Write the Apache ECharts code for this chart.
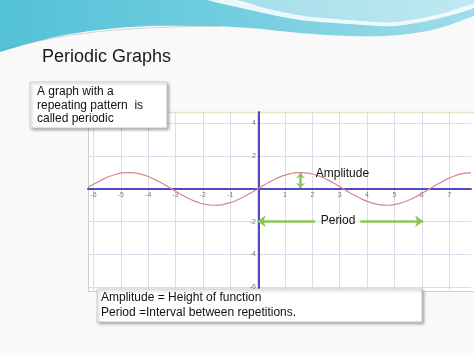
<!DOCTYPE html>
<html><head><meta charset="utf-8">
<script src="https://cdn.jsdelivr.net/npm/echarts@6/dist/echarts.min.js"></script>
<style>html,body{margin:0;padding:0;background:#f9f9f9}#c{width:474px;height:355px}</style>
</head><body><div id="c"></div>
<script>
// ---- data ----
const xValues = [-6.2,-6.0,-5.8,-5.6,-5.4,-5.2,-5.0,-4.8,-4.6,-4.4,-4.2,-4.0,-3.8,-3.6,-3.4,-3.2,-3.0,-2.8,-2.6,-2.4,-2.2,-2.0,-1.8,-1.6,-1.4,-1.2,-1.0,-0.8,-0.6,-0.4,-0.2,0,0.2,0.4,0.6,0.8,1.0,1.2,1.4,1.6,1.8,2.0,2.2,2.4,2.6,2.8,3.0,3.2,3.4,3.6,3.8,4.0,4.2,4.4,4.6,4.8,5.0,5.2,5.4,5.6,5.8,6.0,6.2,6.4,6.6,6.8,7.0,7.2,7.4,7.6,7.8];
const yValues = [0.08,0.28,0.46,0.63,0.77,0.88,0.96,1.0,0.99,0.95,0.87,0.76,0.61,0.44,0.26,0.06,-0.14,-0.34,-0.52,-0.68,-0.81,-0.91,-0.97,-1.0,-0.99,-0.93,-0.84,-0.72,-0.56,-0.39,-0.2,0,0.2,0.39,0.56,0.72,0.84,0.93,0.99,1.0,0.97,0.91,0.81,0.68,0.52,0.34,0.14,-0.06,-0.26,-0.44,-0.61,-0.76,-0.87,-0.95,-0.99,-1.0,-0.96,-0.88,-0.77,-0.63,-0.46,-0.28,-0.08,0.12,0.31,0.49,0.66,0.79,0.9,0.97,1.0];
const xTickLabels = [-6,-5,-4,-3,-2,-1,1,2,3,4,5,6,7];
const yTickLabels = [-6,-4,-2,2,4];
const amplitudeArrow = [[1.57, 0.95], [1.57, 0.05]];
const periodArrowLeft = [[0, -1.97], [2.1, -1.97]];
const periodArrowRight = [[3.75, -1.97], [6.05, -1.97]];
const annotationTexts = ['Amplitude', 'Period'];
const annotationCoords = [[3.1, 0.95], [2.94, -1.97]];
const titleText = 'Periodic Graphs';
const box1Lines = ['A graph with a', 'repeating pattern  is', 'called periodic'];
const box2Lines = ['Amplitude = Height of function', 'Period =Interval between repetitions.'];

const FONT = '"Liberation Sans", Arial, sans-serif';
const T = 'rgba(0,0,0,0)';
function cycle(n, idx, col) { const a = []; for (let i = 0; i < n; i++) a.push(i === idx ? col : T); return a; }
function isTick(v, list) { const r = Math.round(v); return Math.abs(v - r) < 1e-6 && list.indexOf(r) >= 0 ? String(r) : ''; }

const X_MIN = -6.2, X_MAX = 7.8, Y_MIN = -6.3, Y_MAX = 4.7;
const G = { left: 88, top: 112, width: 386, height: 180 };
// move the axes onto the zero lines (labels included)
const xAxisOffset = -G.height * (0 - Y_MIN) / (Y_MAX - Y_MIN);
const yAxisOffset = -G.width * (0 - X_MIN) / (X_MAX - X_MIN);

const chart = echarts.init(document.getElementById('c'), null, { renderer: 'canvas' });
const curve = xValues.map((x, i) => [x, yValues[i]]);
const arrowColor = '#8cc65a';

const option = {
  backgroundColor: '#f9f9f9',
  animation: false,
  grid: Object.assign({ containLabel: false }, G),
  xAxis: {
    type: 'value', min: X_MIN, max: X_MAX, interval: 0.2, offset: xAxisOffset,
    axisLine: { onZero: false, lineStyle: { color: '#5048c4', width: 2 } },
    axisTick: { show: false },
    axisLabel: { margin: 3, fontSize: 7, color: '#777', fontFamily: FONT, formatter: v => isTick(v, xTickLabels) },
    splitLine: { show: true, lineStyle: { color: cycle(5, 1, '#dcdcee'), width: 1 } }
  },
  yAxis: {
    type: 'value', min: Y_MIN, max: Y_MAX, interval: 0.1, offset: yAxisOffset,
    axisLine: { onZero: false, lineStyle: { color: '#5048c4', width: 2 } },
    axisTick: { show: false },
    axisLabel: { margin: 3, fontSize: 7, color: '#777', fontFamily: FONT, formatter: v => isTick(v, yTickLabels) },
    splitLine: { show: true, lineStyle: { color: cycle(20, 3, '#dcdcee'), width: 1 } }
  },
  series: [{
    type: 'line', data: curve, smooth: true, showSymbol: false, symbol: 'none', z: 3,
    lineStyle: { color: '#d8868a', width: 1.2 },
    markLine: {
      silent: true, symbol: ['arrow', 'arrow'], symbolSize: [9, 8],
      label: { show: false },
      lineStyle: { color: arrowColor, width: 2.5, type: 'solid' },
      data: [
        [{ coord: amplitudeArrow[0], symbolSize: [7, 5] }, { coord: amplitudeArrow[1], symbolSize: [7, 5] }],
        [{ coord: periodArrowLeft[0] }, { coord: periodArrowLeft[1], symbol: 'none' }],
        [{ coord: periodArrowRight[0], symbol: 'none' }, { coord: periodArrowRight[1] }]
      ]
    },
    markPoint: {
      silent: true, symbol: 'circle', symbolSize: 1,
      itemStyle: { color: T },
      label: { show: true, position: 'inside', color: '#111', fontSize: 12, fontFamily: FONT, formatter: p => p.name },
      data: annotationTexts.map((t, i) => ({ name: t, coord: annotationCoords[i] }))
    }
  }],
  graphic: [
    { type: 'polygon', z: -100, shape: { smooth: 0.35, points: [[-30, -30], [504, -30], [504, 8], [474, 16], [440, 28], [400, 35], [350, 36], [300, 33], [250, 28], [200, 26], [130, 27], [60, 36], [0, 52], [-30, 62]] },
      style: { fill: { type: 'linear', x: 0, y: 0, x2: 1, y2: 0, colorStops: [{ offset: 0, color: '#4dbfd6' }, { offset: 0.5, color: '#72cde0' }, { offset: 1, color: '#a6dfeb' }] } } },
    { type: 'polygon', z: -99, shape: { smooth: 0.35, points: [[232, -1], [265, 8], [305, 16], [350, 20], [395, 22], [440, 14], [474, 4], [490, -1]] }, style: { fill: 'rgba(255,255,255,0.35)' } },
    { type: 'polygon', z: -98, shape: { smooth: 0.3, points: [[205, -1], [250, 10], [300, 20], [350, 24], [395, 26], [440, 18], [474, 8], [474, 4], [440, 14], [395, 22], [350, 20], [305, 16], [265, 8], [232, -1]] }, style: { fill: 'rgba(255,255,255,0.85)' } },
    { type: 'polyline', z: -97, shape: { smooth: 0.4, points: [[0, 50], [60, 37], [130, 29], [220, 26]] }, style: { fill: null, stroke: 'rgba(120,150,160,0.35)', lineWidth: 1 } },
    { type: 'rect', z: -50, shape: { x: 88.5, y: 112.5, width: 390, height: 179 }, style: { fill: '#ffffff', stroke: '#cfcfcf', lineWidth: 1 } },
    { type: 'line', z: -49, shape: { x1: 88, y1: 112.5, x2: 474, y2: 112.5 }, style: { stroke: '#e6e4c8', lineWidth: 1.5 } },
    { type: 'text', z: 50, x: 42, y: 57, style: { text: titleText, font: '18px ' + FONT, fill: '#1a1a1a', verticalAlign: 'middle' } },
    { type: 'rect', z: 100, shape: { x: 30, y: 82, width: 137, height: 46 },
      style: { fill: '#ffffff', stroke: '#c4c4c4', lineWidth: 0.8, shadowBlur: 3, shadowColor: 'rgba(0,0,0,0.35)', shadowOffsetX: 1.5, shadowOffsetY: 1.5 } },
    { type: 'text', z: 101, x: 37, y: 85, style: { text: box1Lines.join('\n'), font: '12px ' + FONT, lineHeight: 13.5, fill: '#111', verticalAlign: 'top' } },
    { type: 'rect', z: 100, shape: { x: 97, y: 289, width: 325, height: 33 },
      style: { fill: '#ffffff', stroke: '#c4c4c4', lineWidth: 0.8, shadowBlur: 3, shadowColor: 'rgba(0,0,0,0.35)', shadowOffsetX: 1.5, shadowOffsetY: 1.5 } },
    { type: 'text', z: 101, x: 101, y: 290.5, style: { text: box2Lines.join('\n'), font: '12px ' + FONT, lineHeight: 15, fill: '#111', verticalAlign: 'top' } }
  ]
};
chart.setOption(option);
</script>
</body></html>
